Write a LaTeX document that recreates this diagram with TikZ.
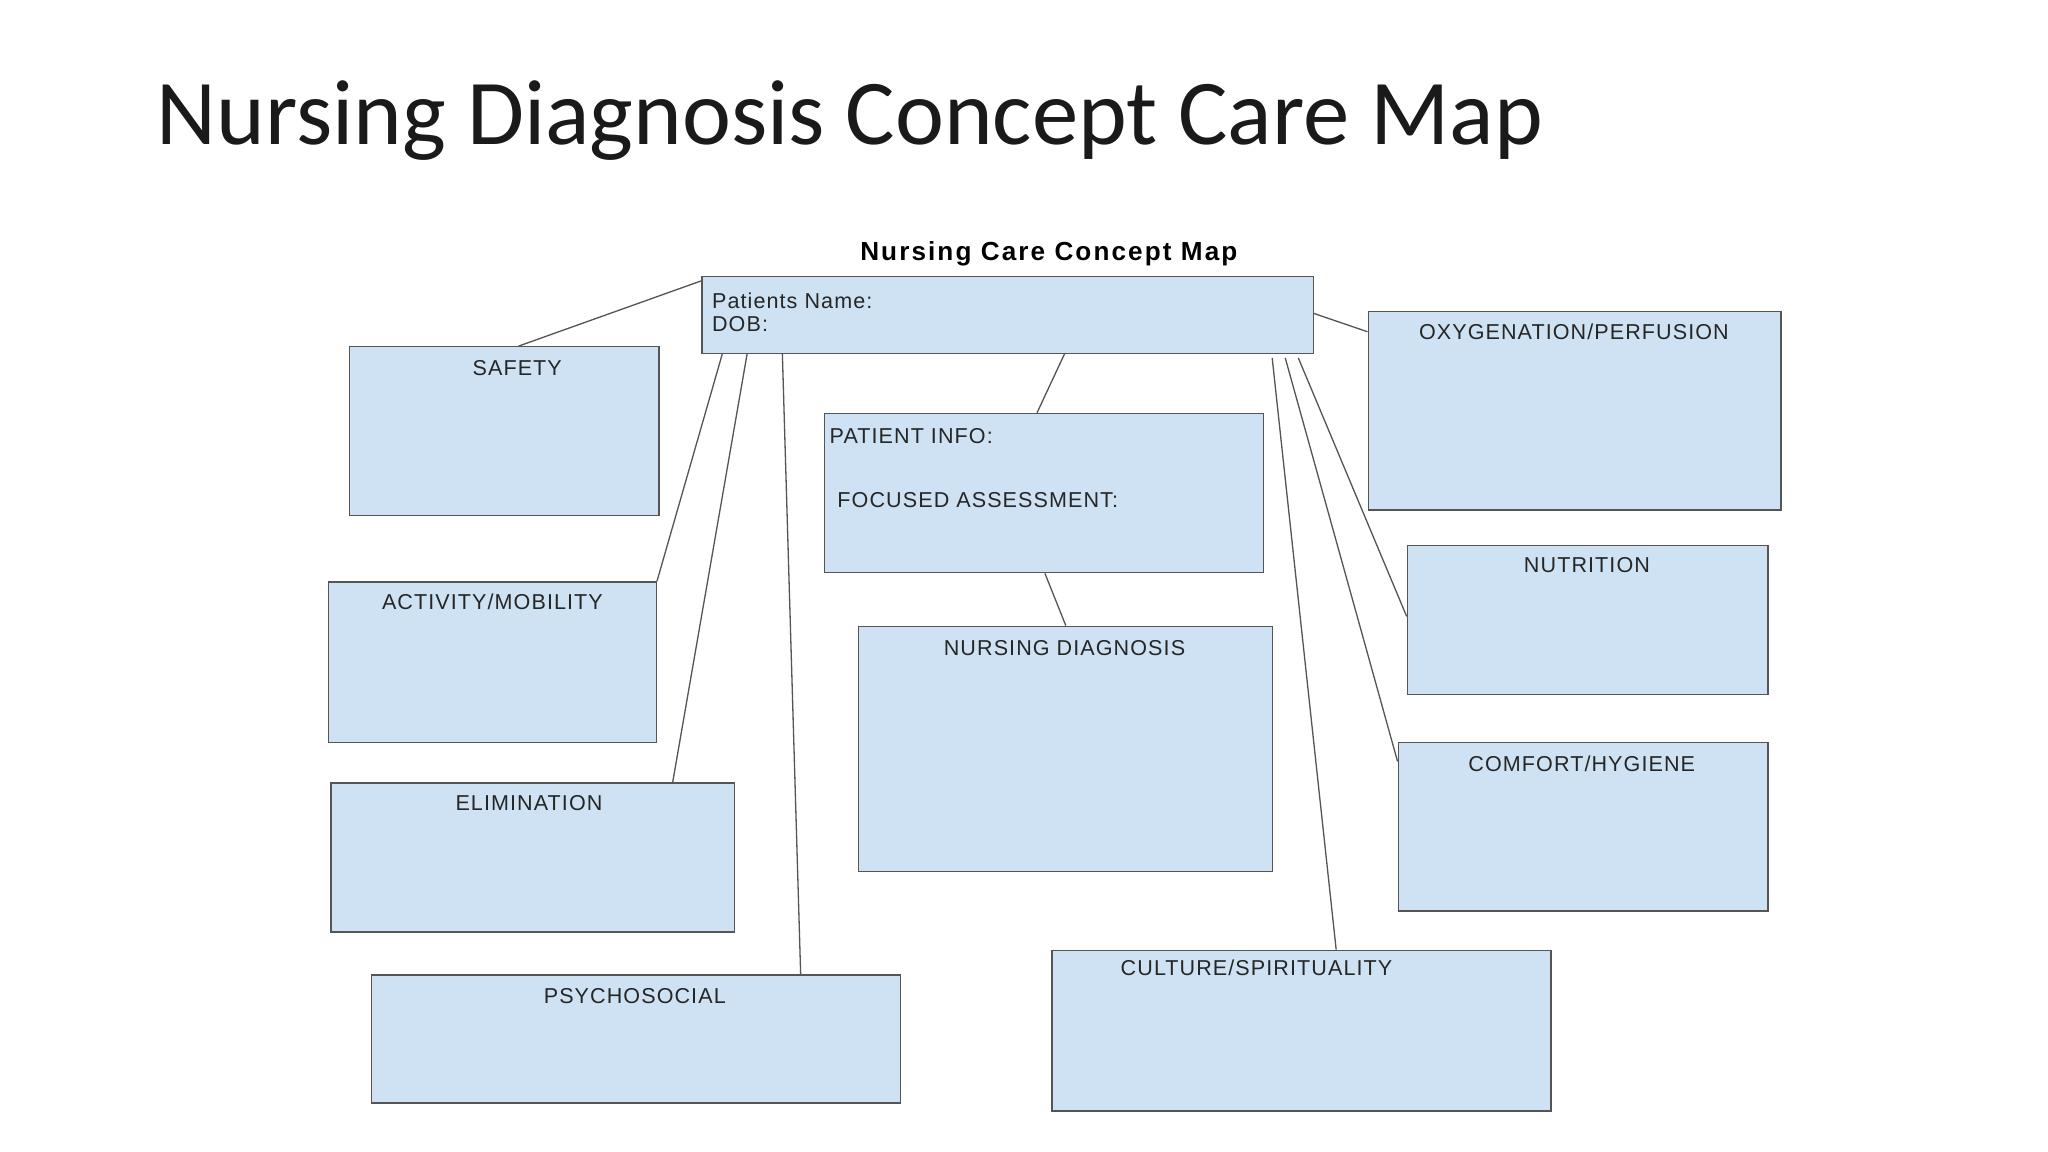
\documentclass[tikz,border=0pt]{standalone}
\usepackage{fontspec}
\setmainfont{Liberation Sans}[LetterSpace=5]
\newfontfamily\titlefont{Carlito}
\usetikzlibrary{calc}
\definecolor{boxblue}{HTML}{CFE2F3}
\definecolor{edge}{HTML}{555555}
\definecolor{titlegray}{HTML}{1A1A1A}
\tikzset{
 cbox/.style={draw=edge,fill=boxblue,line width=1pt,anchor=north west,inner sep=0pt},
 lbl/.style={font=\fontsize{16.5}{18}\selectfont,inner sep=0pt,text=black!85},
 conn/.style={draw=edge,line width=1pt}
}
\newcommand{\mkbox}[5]{\node[cbox,minimum width=#4-#2,minimum height=#5-#3] (#1) at (#2,#3) {};}
\begin{document}
\begin{tikzpicture}[x=1pt,y=-1pt]
\useasboundingbox (0,0) rectangle (1568,882);
\fill[white] (0,0) rectangle (1568,882);
\node[font=\titlefont\fontsize{71}{75}\selectfont,anchor=west,inner sep=0pt,text=titlegray] (title) at (120,92) {Nursing Diagnosis Concept Care Map};
\node[font=\bfseries\fontsize{20}{22}\selectfont\addfontfeature{LetterSpace=8},inner sep=0pt] (sub) at (803,194) {Nursing Care Concept Map};
\mkbox{hdr}{537}{211}{1005}{270}
\mkbox{safety}{267}{265}{504}{394}
\mkbox{act}{251}{445}{502}{568}
\mkbox{elim}{253}{599}{562}{713}
\mkbox{psy}{284}{746}{689}{844}
\mkbox{info}{631}{316}{967}{438}
\mkbox{nd}{657}{479}{974}{667}
\mkbox{cult}{805}{727}{1187}{850}
\mkbox{oxy}{1047}{238}{1363}{390}
\mkbox{nut}{1077}{417}{1353}{531}
\mkbox{com}{1070}{568}{1353}{697}
\node[lbl,anchor=west] (pn) at (545,230) {Patients Name:};
\node[lbl,anchor=west] (dob) at (545,248) {DOB:};
\node[lbl] (l1) at (396,282) {SAFETY};
\node[lbl] (l2) at (377,461) {ACTIVITY/MOBILITY};
\node[lbl] (l3) at (405,615) {ELIMINATION};
\node[lbl] (l4) at (486,763) {PSYCHOSOCIAL};
\node[lbl,anchor=west] (l5) at (635,334) {PATIENT INFO:};
\node[lbl,anchor=west] (l6) at (641,383) {FOCUSED ASSESSMENT:};
\node[lbl] (l7) at (815,496) {NURSING DIAGNOSIS};
\node[lbl] (l8) at (962,741) {CULTURE/SPIRITUALITY};
\node[lbl] (l9) at (1205,254) {OXYGENATION/PERFUSION};
\node[lbl] (l10) at (1215,433) {NUTRITION};
\node[lbl] (l11) at (1211,585) {COMFORT/HYGIENE};
\draw[conn] ($(hdr.north west)+(0,4)$) -- ($(safety.north west)+(130,0)$);
\draw[conn] ($(hdr.south west)+(16,0)$) -- (act.north east);
\draw[conn] ($(hdr.south west)+(35,0)$) -- ($(elim.north west)+(262,0)$);
\draw[conn] ($(hdr.south west)+(62,0)$) -- ($(psy.north west)+(329,0)$);
\draw[conn] ($(hdr.south west)+(278,0)$) -- ($(info.north west)+(163,0)$);
\draw[conn] ($(info.south west)+(169,0)$) -- ($(nd.north west)+(159,0)$);
\draw[conn] ($(hdr.north east)+(0,29)$) -- ($(oxy.north west)+(0,16)$);
\draw[conn] ($(hdr.south east)+(-12,3)$) -- ($(nut.north west)+(0,55)$);
\draw[conn] ($(hdr.south east)+(-22,3)$) -- ($(com.north west)+(0,15)$);
\draw[conn] ($(hdr.south east)+(-32,3)$) -- ($(cult.north west)+(218,0)$);
\end{tikzpicture}
\end{document}
